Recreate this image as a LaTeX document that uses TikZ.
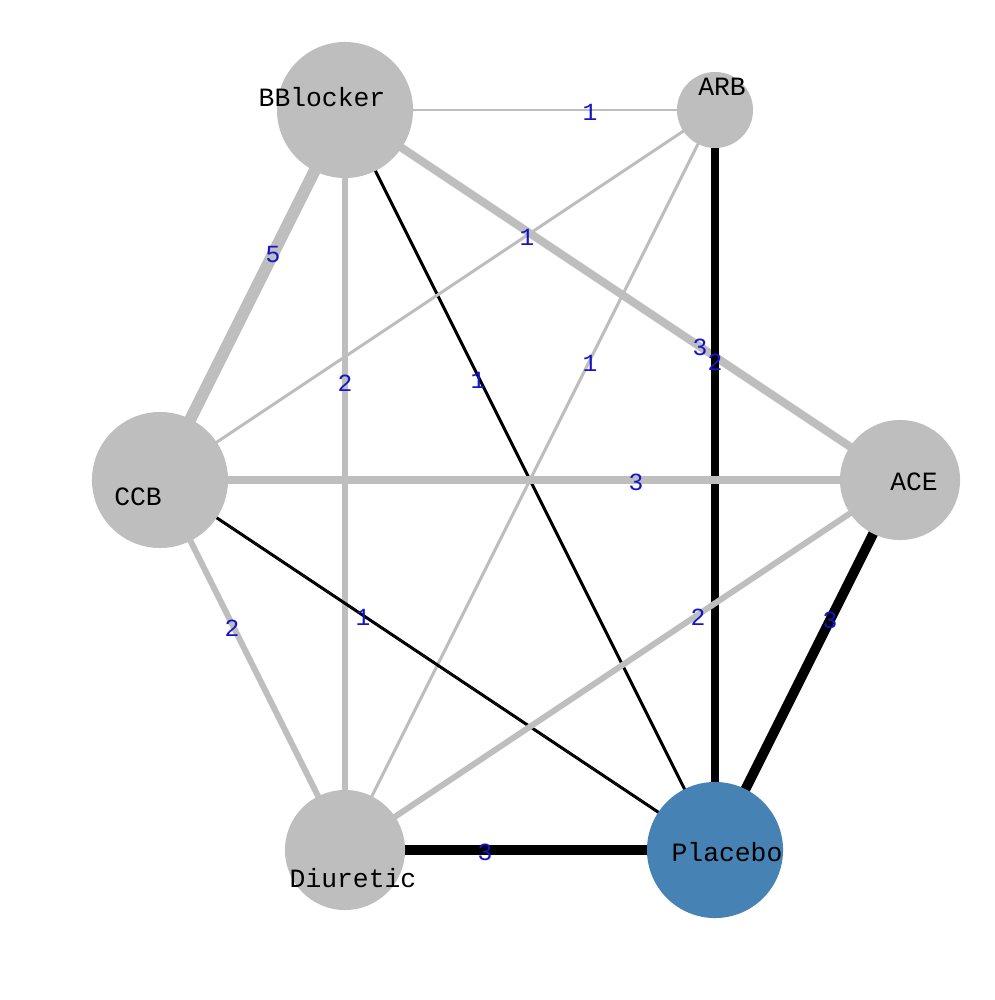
\documentclass[tikz,border=0pt]{standalone}
\usepackage{fontspec}
\setmainfont{Liberation Mono}
\begin{document}
\begin{tikzpicture}[x=0.01cm,y=-0.01cm,
  nd/.style={circle,fill=gray!50!white,inner sep=0pt},
  gr/.style={draw={rgb,255:red,190;green,190;blue,190}},
  bk/.style={draw=black},
  lb/.style={text={rgb,255:red,20;green,20;blue,200},font=\fontsize{7}{8}\selectfont},
  tx/.style={font=\fontsize{7.5}{9}\selectfont}]
\definecolor{ng}{RGB}{190,190,190}
\definecolor{steel}{RGB}{70,130,180}
\useasboundingbox (0,0) rectangle (995,1000);
\coordinate (BB) at (345,110);
\coordinate (ARB) at (715,110);
\coordinate (CCB) at (160,480);
\coordinate (ACE) at (900,480);
\coordinate (DI) at (345,850);
\coordinate (PL) at (715,850);
\draw[gr,line width=0.85pt] (BB)--(ARB);
\draw[gr,line width=3.4pt] (BB)--(CCB);
\draw[gr,line width=1.7pt] (BB)--(DI);
\draw[bk,line width=0.85pt] (BB)--(PL);
\draw[gr,line width=2.3pt] (BB)--(ACE);
\draw[gr,line width=0.85pt] (ARB)--(CCB);
\draw[gr,line width=0.85pt] (ARB)--(DI);
\draw[bk,line width=2pt] (ARB)--(PL);
\draw[gr,line width=2pt] (CCB)--(ACE);
\draw[gr,line width=1.7pt] (CCB)--(DI);
\draw[bk,line width=0.85pt] (CCB)--(PL);
\draw[gr,line width=1.7pt] (ACE)--(DI);
\draw[bk,line width=2.8pt] (ACE)--(PL);
\draw[bk,line width=2.8pt] (DI)--(PL);
\node[nd,fill=ng,minimum size=1.36cm] (nBB) at (BB) {};
\node[nd,fill=ng,minimum size=0.76cm] (nARB) at (ARB) {};
\node[nd,fill=ng,minimum size=1.36cm] (nCCB) at (CCB) {};
\node[nd,fill=ng,minimum size=1.2cm] (nACE) at (ACE) {};
\node[nd,fill=ng,minimum size=1.2cm] (nDI) at (DI) {};
\node[nd,fill=steel,minimum size=1.36cm] (nPL) at (PL) {};
\node[tx] (tBB) at (322,97) {BBlocker};
\node[tx] (tARB) at (722,87) {ARB};
\node[tx] (tCCB) at (138,497) {CCB};
\node[tx] (tACE) at (914,482) {ACE};
\node[tx] (tDI) at (353,878) {Diuretic};
\node[tx] (tPL) at (727,852) {Placebo};
\node[lb] (l1) at (590,112) {1};
\node[lb] (l2) at (273,255) {5};
\node[lb] (l3) at (345,383) {2};
\node[lb] (l4) at (478,380) {1};
\node[lb] (l5) at (700,347) {3};
\node[lb] (l6) at (527,237) {1};
\node[lb] (l7) at (590,363) {1};
\node[lb] (l8) at (715,362) {2};
\node[lb] (l9) at (636,482) {3};
\node[lb] (l10) at (232,628) {2};
\node[lb] (l11) at (363,617) {1};
\node[lb] (l12) at (698,617) {2};
\node[lb] (l13) at (830,620) {3};
\node[lb] (l14) at (485,852) {3};
\end{tikzpicture}
\end{document}
